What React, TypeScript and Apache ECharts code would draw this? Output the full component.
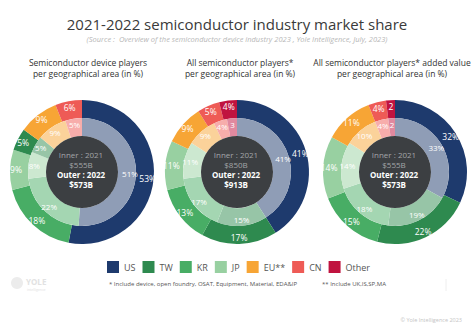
import React, { useEffect, useRef } from 'react';
import * as echarts from 'echarts';

// ---------- data ----------
const categories = ['US', 'TW', 'KR', 'JP', 'EU', 'CN', 'Other'];
const legendLabels = ['US', 'TW', 'KR', 'JP', 'EU**', 'CN', 'Other'];

// Panel 1: semiconductor device players
const panel1Names = ['US', 'KR', 'JP', 'TW', 'EU', 'CN'];
const panel1Outer2022 = [53, 18, 9, 5, 9, 6];
const panel1Inner2021 = [51, 22, 8, 5, 9, 5];

// Panel 2: all semiconductor players
const panel2Names = ['US', 'TW', 'KR', 'JP', 'EU', 'CN', 'Other'];
const panel2Outer2022 = [41, 17, 13, 11, 9, 5, 4];
const panel2Inner2021 = [41, 15, 17, 11, 9, 4, 3];

// Panel 3: all semiconductor players added value
const panel3Names = ['US', 'TW', 'KR', 'JP', 'EU', 'CN', 'Other'];
const panel3Outer2022 = [32, 22, 15, 14, 11, 4, 2];
const panel3Inner2021 = [33, 19, 18, 14, 10, 4, 2];

const totals2021 = ['$555B', '$850B', '$555B'];
const totals2022 = ['$573B', '$913B', '$573B'];

const panelTitles = [
  ['Semiconductor device players', 'per geographical area (in %)'],
  ['All semiconductor players*', 'per geographical area (in %)'],
  ['All semiconductor players* added value', 'per geographical area (in %)'],
];

const mainTitle = '2021-2022 semiconductor industry market share';
const sourceText =
  '(Source :  Overview of the semiconductor device industry 2023 , Yole Intelligence, July, 2023)';
const footnote1 = '* Include device, open foundry, OSAT, Equipment, Material, EDA&IP';
const footnote2 = '** Include UK,IS,SP,MA';
const copyright = '\u00A9 Yole Intelligence 2023';

// ---------- styles ----------
const colors: Record<string, string> = {
  US: '#1e3a6d',
  TW: '#2e8a4f',
  KR: '#48ad65',
  JP: '#98d0a1',
  EU: '#f7a535',
  CN: '#ee5b56',
  Other: '#c0133f',
};

function lighten(hex: string, t: number): string {
  const n = parseInt(hex.slice(1), 16);
  const r = (n >> 16) & 255;
  const g = (n >> 8) & 255;
  const b = n & 255;
  const m = (c: number) => Math.round(c + (255 - c) * t);
  return 'rgb(' + m(r) + ',' + m(g) + ',' + m(b) + ')';
}

const FONT = '"Open Sans", "Noto Sans", sans-serif';
const centersX = [82, 237, 395];
const centerY = 172;
const innerR: [number, number] = [36, 54];
const outerR: [number, number] = [54, 72];
const holeR = 36;

function fmtLabel(v: number) {
  return v < 4 ? String(v) : v + '%';
}

function ring(
  names: string[],
  values: number[],
  cx: number,
  radius: [number, number],
  inner: boolean,
  fontSize: number
) {
  return {
    type: 'pie',
    center: [cx, centerY],
    radius,
    startAngle: 90,
    clockwise: true,
    silent: true,
    avoidLabelOverlap: false,
    labelLine: { show: false },
    label: {
      show: true,
      position: 'inside',
      color: '#ffffff',
      fontFamily: FONT,
      fontSize,
      formatter: (p: any) => fmtLabel(p.value),
    },
    itemStyle: { borderWidth: 0 },
    data: names.map((n, i) => ({
      name: n,
      value: values[i],
      itemStyle: { color: inner ? lighten(colors[n], 0.5) : colors[n] },
    })),
  };
}

function hole(cx: number) {
  return {
    type: 'pie',
    center: [cx, centerY],
    radius: [0, holeR],
    silent: true,
    label: { show: false },
    labelLine: { show: false },
    data: [{ name: 'center', value: 1, itemStyle: { color: '#3c3f42' } }],
  };
}

export default function App() {
  const ref = useRef<HTMLDivElement>(null);

  useEffect(() => {
    if (!ref.current) return;
    const chart = echarts.init(ref.current, undefined, { renderer: 'svg' });

    const panels = [
      { names: panel1Names, outer: panel1Outer2022, inner: panel1Inner2021 },
      { names: panel2Names, outer: panel2Outer2022, inner: panel2Inner2021 },
      { names: panel3Names, outer: panel3Outer2022, inner: panel3Inner2021 },
    ];

    const series: any[] = [];
    panels.forEach((p, i) => series.push(ring(p.names, p.outer, centersX[i], outerR, false, 8.5)));
    panels.forEach((p, i) => series.push(ring(p.names, p.inner, centersX[i], innerR, true, 8)));
    panels.forEach((p, i) => series.push(hole(centersX[i])));

    const graphics: any[] = [];
    const panelTitleX = [88, 240, 392];
    panelTitles.forEach((lines, i) => {
      lines.forEach((line, j) => {
        graphics.push({
          type: 'text',
          x: panelTitleX[i],
          y: 62 + j * 11,
          silent: true,
          style: {
            text: line,
            align: 'center',
            verticalAlign: 'middle',
            fontFamily: FONT,
            fontSize: 8.5,
            fill: '#333333',
          },
        });
      });
    });

    centersX.forEach((cx, i) => {
      const rows = [
        { t: 'Inner : 2021', c: '#a3a5a8', w: 'normal', dy: -17.5 },
        { t: totals2021[i], c: '#a3a5a8', w: 'normal', dy: -7.5 },
        { t: 'Outer : 2022', c: '#ffffff', w: 'bold', dy: 2.5 },
        { t: totals2022[i], c: '#ffffff', w: 'bold', dy: 12.5 },
      ];
      rows.forEach((r) => {
        graphics.push({
          type: 'text',
          x: cx - 1,
          y: centerY + r.dy,
          silent: true,
          z: 100,
          style: {
            text: r.t,
            align: 'center',
            verticalAlign: 'middle',
            fontFamily: FONT,
            fontSize: 8,
            lineHeight: 9,
            fontWeight: r.w,
            fill: r.c,
          },
        });
      });
    });

    graphics.push(
      {
        type: 'text',
        x: 109,
        y: 284,
        silent: true,
        style: { text: footnote1, fontFamily: FONT, fontSize: 6, fill: '#555555', verticalAlign: 'middle' },
      },
      {
        type: 'text',
        x: 322,
        y: 284,
        silent: true,
        style: { text: footnote2, fontFamily: FONT, fontSize: 6, fill: '#555555', verticalAlign: 'middle' },
      },
      {
        type: 'text',
        x: 462,
        y: 320,
        silent: true,
        style: { text: copyright, fontFamily: FONT, fontSize: 5.5, fill: '#c4c4c4', align: 'right', verticalAlign: 'middle' },
      },
      {
        type: 'circle',
        silent: true,
        shape: { cx: 17, cy: 283, r: 6 },
        style: { fill: '#ececec' },
      },
      {
        type: 'text',
        x: 26,
        y: 281,
        silent: true,
        style: { text: 'YOLE', fontFamily: FONT, fontSize: 8, fontWeight: 'bold', fill: '#e2e2e2', verticalAlign: 'middle' },
      },
      {
        type: 'text',
        x: 27,
        y: 289,
        silent: true,
        style: { text: 'intelligence', fontFamily: FONT, fontSize: 3.5, fill: '#e2e2e2', verticalAlign: 'middle' },
      },
      {
        type: 'line',
        silent: true,
        shape: { x1: 446, y1: 279, x2: 446, y2: 291 },
        style: { stroke: '#eeeeee', lineWidth: 1 },
      }
    );

    chart.setOption({
      animation: false,
      backgroundColor: '#ffffff',
      title: [
        {
          text: mainTitle,
          left: 'center',
          top: 11,
          textStyle: { fontFamily: FONT, fontSize: 15, fontWeight: 'normal', color: '#3a3a3a' },
        },
        {
          text: sourceText,
          left: 'center',
          top: 29.5,
          textStyle: { fontFamily: FONT, fontSize: 7.5, fontStyle: 'italic', fontWeight: 'normal', color: '#b8b8b8' },
        },
      ],
      legend: {
        left: 107,
        top: 261,
        padding: 0,
        itemWidth: 12,
        itemHeight: 12,
        itemGap: 7,
        icon: 'rect',
        selectedMode: false,
        textStyle: { fontFamily: FONT, fontSize: 9, color: '#555555' },
        formatter: (name: string) => legendLabels[categories.indexOf(name)],
        data: categories.map((c) => ({ name: c, itemStyle: { color: colors[c] } })),
      },
      graphic: graphics,
      series,
    });

    return () => chart.dispose();
  }, []);

  return (
    <div
      ref={ref}
      style={{ position: 'fixed', left: 0, top: 0, width: 474, height: 331, background: '#fff' }}
    />
  );
}
